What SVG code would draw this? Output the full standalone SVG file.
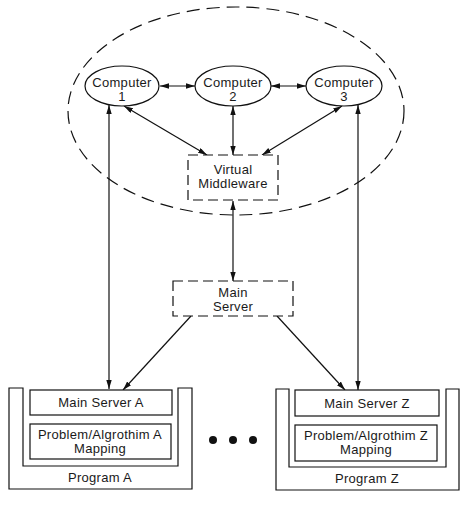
<svg xmlns="http://www.w3.org/2000/svg" width="474" height="509" viewBox="0 0 474 509">
<style>
.ln{stroke:#111;stroke-width:1.2;fill:none}
.sh{stroke:#111;stroke-width:1.2;fill:#fff}
.dash{stroke:#111;stroke-width:1.2;fill:#fff;stroke-dasharray:10 5}
.t{font-family:"Liberation Sans","DejaVu Sans",sans-serif;font-size:13px;letter-spacing:0.3px;fill:#1a1a1a;text-anchor:middle}
</style>
<defs>
<marker id="ah" viewBox="0 0 10 6" refX="10" refY="3" markerWidth="9" markerHeight="5.4" markerUnits="userSpaceOnUse" orient="auto-start-reverse">
<path d="M0,0 L10,3 L0,6 Z" fill="#111"/>
</marker>
</defs>
<rect width="474" height="509" fill="#fff"/>
<ellipse id="cluster" cx="236" cy="111" rx="168" ry="104" fill="none" stroke="#111" stroke-width="1.2" stroke-dasharray="13 7"/>
<g id="connectors">
<line class="ln" x1="160" y1="86" x2="195" y2="86" marker-start="url(#ah)" marker-end="url(#ah)"/>
<line class="ln" x1="271" y1="86" x2="306" y2="86" marker-start="url(#ah)" marker-end="url(#ah)"/>
<line class="ln" x1="124" y1="106" x2="207" y2="155" marker-start="url(#ah)" marker-end="url(#ah)"/>
<line class="ln" x1="233" y1="106" x2="233" y2="155" marker-start="url(#ah)" marker-end="url(#ah)"/>
<line class="ln" x1="342" y1="106" x2="262" y2="155" marker-start="url(#ah)" marker-end="url(#ah)"/>
<line class="ln" x1="233" y1="201" x2="233" y2="281" marker-start="url(#ah)" marker-end="url(#ah)"/>
<line class="ln" x1="109" y1="105" x2="109" y2="389" marker-start="url(#ah)" marker-end="url(#ah)"/>
<line class="ln" x1="358" y1="105" x2="358" y2="390" marker-start="url(#ah)" marker-end="url(#ah)"/>
<line class="ln" x1="191" y1="316" x2="123" y2="390" marker-end="url(#ah)"/>
<line class="ln" x1="277" y1="316" x2="345" y2="390" marker-end="url(#ah)"/>
</g>
<g id="computer1">
<ellipse class="sh" cx="122" cy="86" rx="37" ry="20"/>
<text class="t" x="122" y="87">Computer</text>
<text class="t" x="122" y="101">1</text>
</g>
<g id="computer2">
<ellipse class="sh" cx="233" cy="86" rx="38" ry="20"/>
<text class="t" x="233" y="87">Computer</text>
<text class="t" x="233" y="101">2</text>
</g>
<g id="computer3">
<ellipse class="sh" cx="344" cy="86" rx="38" ry="20"/>
<text class="t" x="344" y="87">Computer</text>
<text class="t" x="344" y="101">3</text>
</g>
<g id="virtual-middleware">
<rect class="dash" x="188" y="155" width="90" height="45"/>
<text class="t" x="233" y="174">Virtual</text>
<text class="t" x="233" y="188">Middleware</text>
</g>
<g id="main-server">
<rect class="dash" x="173" y="281" width="120" height="35"/>
<text class="t" x="233" y="297">Main</text>
<text class="t" x="233" y="311">Server</text>
</g>
<g id="program-a">
<path class="sh" d="M9,388 L9,489 L192,489 L192,388 L178,388 L178,466 L23,466 L23,388 Z"/>
<rect class="sh" x="30" y="390" width="142" height="25"/>
<text class="t" x="101" y="407">Main Server A</text>
<rect class="sh" x="30" y="424" width="141" height="35"/>
<text class="t" x="100" y="439">Problem/Algrothim A</text>
<text class="t" x="100" y="453">Mapping</text>
<text class="t" x="100" y="482">Program A</text>
</g>
<g id="ellipsis">
<circle cx="213" cy="440" r="4" fill="#111"/>
<circle cx="233" cy="440" r="4" fill="#111"/>
<circle cx="253" cy="440" r="4" fill="#111"/>
</g>
<g id="program-z">
<path class="sh" d="M276,389 L276,490 L459,490 L459,389 L446,389 L446,467 L289,467 L289,389 Z"/>
<rect class="sh" x="295" y="390" width="144" height="26"/>
<text class="t" x="367" y="408">Main Server Z</text>
<rect class="sh" x="295" y="425" width="142" height="36"/>
<text class="t" x="366" y="440">Problem/Algrothim Z</text>
<text class="t" x="366" y="454">Mapping</text>
<text class="t" x="367" y="483">Program Z</text>
</g>
</svg>
